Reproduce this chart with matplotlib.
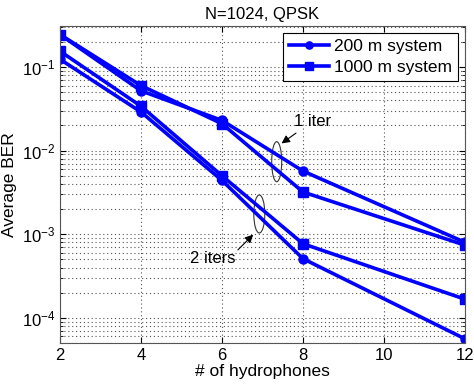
import matplotlib
matplotlib.use("Agg")
import matplotlib.pyplot as plt
from matplotlib.patches import Ellipse

hydrophones = [2, 4, 6, 8, 12]
ber_200_1iter = [0.245, 0.052, 0.023, 0.0057, 0.00080]
ber_1000_1iter = [0.245, 0.060, 0.021, 0.0032, 0.00074]
ber_200_2iter = [0.124, 0.029, 0.0044, 0.00051, 0.000056]
ber_1000_2iter = [0.155, 0.034, 0.0050, 0.00077, 0.000167]

title = "N=1024, QPSK"
xlabel = "# of hydrophones"
ylabel = "Average BER"
legend_labels = ["200 m system", "1000 m system"]
xticks = [2, 4, 6, 8, 10, 12]

plt.rcParams['font.family'] = ['Liberation Sans', 'DejaVu Sans']
plt.rcParams['mathtext.fontset'] = 'custom'
plt.rcParams['mathtext.rm'] = 'Liberation Sans'
fig = plt.figure(figsize=(4.74, 3.88), dpi=100)
ax = fig.add_axes([0.1266, 0.116, 0.8544, 0.817])

blue = (0, 0, 1)
lw = 2.6
l1, = ax.semilogy(hydrophones, ber_200_1iter, '-o', color=blue, lw=lw, ms=6.5, mfc=blue, mec=blue, label=legend_labels[0])
l2, = ax.semilogy(hydrophones, ber_1000_1iter, '-s', color=blue, lw=lw, ms=6.5, mfc=blue, mec=blue, label=legend_labels[1])
ax.semilogy(hydrophones, ber_200_2iter, '-o', color=blue, lw=lw, ms=6.5, mfc=blue, mec=blue)
ax.semilogy(hydrophones, ber_1000_2iter, '-s', color=blue, lw=lw, ms=6.5, mfc=blue, mec=blue)

ax.set_xlim(2, 12)
ax.set_ylim(5e-5, 0.31)
ax.set_xticks(xticks)
ax.set_xticklabels([str(t) for t in xticks])
ax.tick_params(which='both', direction='in', top=True, right=True, labelsize=12)
ax.tick_params(which='minor', length=2.5)
ax.tick_params(which='major', length=4)
ax.grid(True, which='major', axis='both', linestyle=(0, (1, 2.5)), color='#555555', lw=0.8)
ax.grid(True, which='minor', axis='y', linestyle=(0, (1, 2.5)), color='#555555', lw=0.8)
for s in ax.spines.values():
    s.set_color('#555555')

ax.set_title(title, fontsize=12, pad=5)
ax.set_xlabel(xlabel, fontsize=12.5, labelpad=1)
ax.set_ylabel(ylabel, fontsize=12.5, labelpad=3)

leg = ax.legend(handles=[l1, l2], loc='upper right', fontsize=12.5, fancybox=False,
                edgecolor='black', framealpha=1, handlelength=2.3, borderpad=0.35,
                labelspacing=0.3, handletextpad=0.3, borderaxespad=0,
                bbox_to_anchor=(1 - 7 / 405, 1 - 7 / 317), markerscale=0.8)
leg.get_frame().set_linewidth(0.8)

# ellipses (axes-fraction coordinates)
W, H = 405.0, 317.0
e1 = Ellipse(((276.7 - 60) / W, (343 - 161.7) / H), 10 / W, 40 / H, fill=False,
             edgecolor='#333333', lw=0.8, transform=ax.transAxes)
e2 = Ellipse(((259.3 - 60) / W, (343 - 214) / H), 11 / W, 38 / H, fill=False,
             edgecolor='#333333', lw=0.8, transform=ax.transAxes)
ax.add_patch(e1)
ax.add_patch(e2)

ax.annotate("1 iter", xy=(7.47, 0.0122), xytext=(7.78, 0.0225), fontsize=12,
            ha='left', va='center',
            arrowprops=dict(arrowstyle='-|>', color='black', lw=0.8, shrinkA=2, shrinkB=0,
                            mutation_scale=12))
ax.annotate("2 iters", xy=(6.77, 0.00099), xytext=(5.2, 0.00051), fontsize=12,
            ha='left', va='center',
            arrowprops=dict(arrowstyle='-|>', color='black', lw=0.8, shrinkA=0, shrinkB=0,
                            mutation_scale=12, relpos=(1.0, 0.9)))

fig.savefig("out.png", dpi=100)
